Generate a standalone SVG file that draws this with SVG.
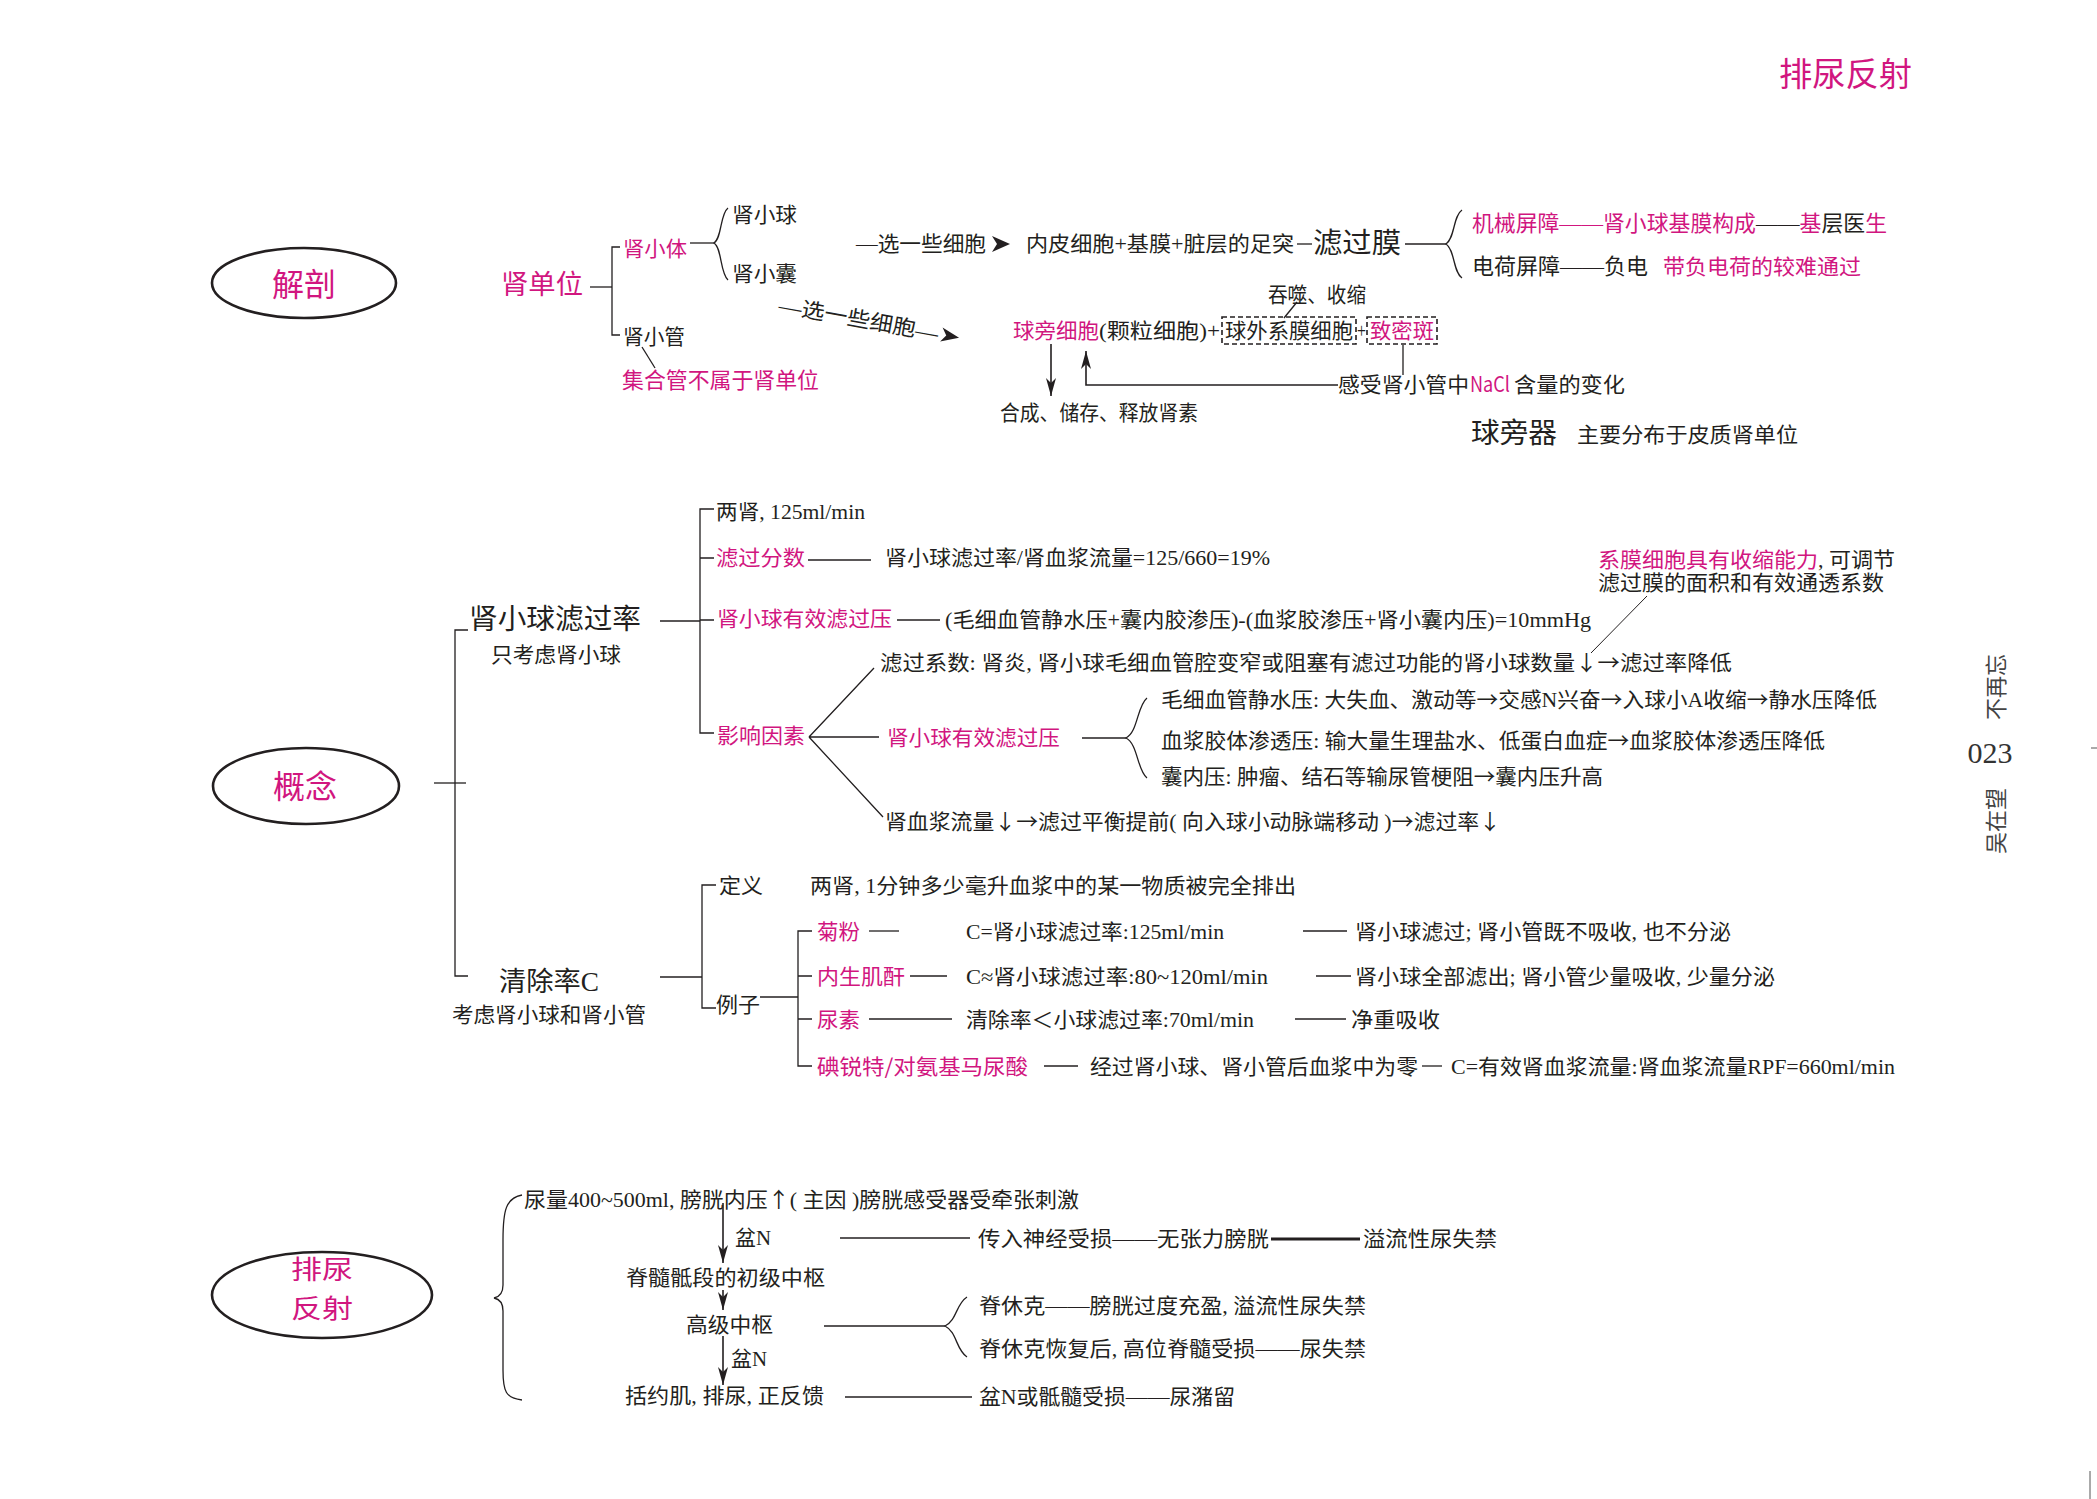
<svg xmlns="http://www.w3.org/2000/svg" width="2097" height="1499" viewBox="0 0 2097 1499">
<style>
.t{font-family:"Liberation Serif","Noto Sans CJK SC",serif;font-size:21px;fill:#231f20}
.p{font-family:"Noto Sans CJK SC",sans-serif;font-size:21px;fill:#d1167f}
.pk{fill:#d1167f}
.bk{fill:#231f20}
.ar{font-family:"Noto Sans CJK SC",sans-serif}
.l{stroke:#231f20;stroke-width:1.3;fill:none}
.e{stroke:#231f20;stroke-width:2.6;fill:none}
.d{stroke:#231f20;stroke-width:1.6;fill:none;stroke-dasharray:5 3}
.side{font-family:"Noto Sans CJK SC",sans-serif;font-size:22px;fill:#444}
</style>
<defs>
<marker id="ah" viewBox="0 0 14 10" refX="14" refY="5" markerWidth="14" markerHeight="10" markerUnits="userSpaceOnUse" orient="auto">
<path d="M0,0 L14,5 L0,10 L4,5 z" fill="#231f20"/>
</marker>
<marker id="ahl" viewBox="0 0 18 10" refX="18" refY="5" markerWidth="18" markerHeight="10" markerUnits="userSpaceOnUse" orient="auto">
<path d="M0,0 L18,5 L0,10 L5,5 z" fill="#231f20"/>
</marker>
</defs>
<rect width="2097" height="1499" fill="#ffffff"/>

<g id="title">
<text class="p" x="1779" y="86" style="font-size:33px" textLength="133" lengthAdjust="spacingAndGlyphs">排尿反射</text>
</g>

<g id="connectors">
<!-- anatomy -->
<line class="l" x1="590" y1="287" x2="612" y2="287"/>
<path class="l" d="M620,247 H612 V335 H620"/>
<line class="l" x1="690" y1="243" x2="714" y2="243"/>
<path class="l" d="M728,208 C720,214 722,238 714,243 C722,248 720,273 728,280"/>
<line class="l" x1="642" y1="347" x2="655" y2="368"/>
<line class="l" x1="1297" y1="244" x2="1312" y2="244"/>
<line class="l" x1="1405" y1="244" x2="1446" y2="244"/>
<path class="l" d="M1462,210 C1453,216 1455,238 1446,244 C1455,250 1453,272 1462,278"/>
<line class="l" x1="1297" y1="302" x2="1284" y2="318"/>
<rect class="d" x="1222" y="317" width="134" height="27"/>
<rect class="d" x="1367" y="317" width="70" height="27"/>
<line class="l" x1="1051" y1="344" x2="1051" y2="396" marker-end="url(#ahl)" style="stroke-width:1.6"/>
<polyline class="l" points="1338,385 1086,385 1086,351" marker-end="url(#ahl)" style="stroke-width:1.6"/>
<line class="l" x1="1403" y1="345" x2="1403" y2="375"/>
<!-- concept -->
<line class="l" x1="434" y1="783" x2="466" y2="783"/>
<path class="l" d="M468,630 H455 V976 H468"/>
<line class="l" x1="660" y1="621" x2="700" y2="621"/>
<path class="l" d="M714,509 H700 V733 H714 M700,558 H714 M700,620 H714"/>
<line class="l" x1="808" y1="560" x2="871" y2="560"/>
<line class="l" x1="897" y1="620" x2="940" y2="620"/>
<line class="l" x1="1647" y1="596" x2="1591" y2="653" style="stroke-width:1"/>
<path class="l" d="M809,737 L874,668 M809,737 L879,737 M809,737 L883,817"/>
<line class="l" x1="1082" y1="738" x2="1126" y2="738"/>
<path class="l" d="M1147,698 C1137,706 1138,732 1126,738 C1138,744 1137,770 1147,778"/>
<line class="l" x1="660" y1="977" x2="702" y2="977"/>
<path class="l" d="M716,885 H702 V1008 H716"/>
<line class="l" x1="760" y1="997" x2="798" y2="997"/>
<path class="l" d="M812,931 H798 V1066 H812 M798,976 H812 M798,1019 H812"/>
<line class="l" x1="869" y1="931" x2="899" y2="931"/>
<line class="l" x1="1303" y1="931" x2="1347" y2="931"/>
<line class="l" x1="910" y1="976" x2="947" y2="976"/>
<line class="l" x1="1316" y1="976" x2="1351" y2="976"/>
<line class="l" x1="869" y1="1019" x2="952" y2="1019"/>
<line class="l" x1="1295" y1="1019" x2="1346" y2="1019"/>
<line class="l" x1="1044" y1="1066" x2="1078" y2="1066"/>
<line class="l" x1="1422" y1="1066" x2="1442" y2="1066"/>
<!-- reflex -->
<path class="l" d="M522,1195 C506,1198 503,1210 503,1240 L503,1285 C503,1293 499,1297 494,1298 C499,1299 503,1303 503,1311 L503,1370 C503,1392 506,1398 522,1400"/>
<line class="l" x1="723" y1="1203" x2="723" y2="1263" marker-end="url(#ahl)" style="stroke-width:1.6"/>
<line class="l" x1="723" y1="1290" x2="723" y2="1310" marker-end="url(#ahl)" style="stroke-width:1.6"/>
<line class="l" x1="723" y1="1336" x2="723" y2="1385" marker-end="url(#ahl)" style="stroke-width:1.6"/>
<line class="l" x1="840" y1="1238" x2="970" y2="1238"/>
<line x1="1271" y1="1239" x2="1360" y2="1239" stroke="#231f20" stroke-width="3"/>
<line class="l" x1="824" y1="1326" x2="945" y2="1326"/>
<path class="l" d="M967,1297 C956,1304 957,1320 945,1326 C957,1332 956,1350 967,1357"/>
<line class="l" x1="845" y1="1397" x2="972" y2="1397"/>
</g>

<g id="n-jiepou">
<ellipse class="e" cx="304" cy="283" rx="92" ry="35"/>
<text class="p" x="304" y="296" text-anchor="middle" style="font-size:32px">解剖</text>
</g>
<g id="n-shendanwei">
<text class="p" x="501" y="294" style="font-size:27px" textLength="82" lengthAdjust="spacingAndGlyphs">肾单位</text>
</g>
<g id="n-shenxiaoti">
<text class="p" x="623" y="256" textLength="64" lengthAdjust="spacingAndGlyphs">肾小体</text>
<text class="t" x="732" y="222" textLength="65" lengthAdjust="spacingAndGlyphs">肾小球</text>
<text class="t" x="732" y="281" textLength="65" lengthAdjust="spacingAndGlyphs">肾小囊</text>
</g>
<g id="n-shenxiaoguan">
<text class="t" x="623" y="344" textLength="62" lengthAdjust="spacingAndGlyphs">肾小管</text>
<text class="p" x="622" y="388" style="font-size:22px" textLength="197" lengthAdjust="spacingAndGlyphs">集合管不属于肾单位</text>
</g>
<g id="n-lvguomo">
<text class="t" x="856" y="251" textLength="130" lengthAdjust="spacingAndGlyphs">—选一些细胞</text>
<polygon points="992,236 1010,244 992,252 997,244" fill="#231f20"/>
<text class="t" x="1026" y="251" textLength="268" lengthAdjust="spacingAndGlyphs">内皮细胞+基膜+脏层的足突</text>
<text class="t" x="1313" y="253" style="font-size:28px" textLength="88" lengthAdjust="spacingAndGlyphs">滤过膜</text>
<text class="t" x="1472" y="231" style="font-size:22px" textLength="415" lengthAdjust="spacingAndGlyphs"><tspan class="pk">机械屏障——肾小球基膜构成</tspan><tspan class="bk">——</tspan><tspan class="pk">基</tspan><tspan class="bk">层医</tspan><tspan class="pk">生</tspan></text>
<text class="t" x="1472" y="274" style="font-size:22px" textLength="176" lengthAdjust="spacingAndGlyphs">电荷屏障——负电</text>
<text class="p" x="1663" y="274" textLength="198" lengthAdjust="spacingAndGlyphs">带负电荷的较难通过</text>
</g>
<g id="n-qiupangqi">
<g transform="rotate(10.3 779 305)">
<text class="t" x="779" y="312" textLength="162" lengthAdjust="spacingAndGlyphs">—选一些细胞—</text>
<polygon points="962,305 944,298 949,305 944,312" fill="#231f20"/>
</g>
<text class="t" x="1268" y="302" textLength="98" lengthAdjust="spacingAndGlyphs">吞噬、收缩</text>
<text class="p" x="1013" y="338" textLength="86" lengthAdjust="spacingAndGlyphs">球旁细胞</text>
<text class="t" x="1099" y="338" textLength="121" lengthAdjust="spacingAndGlyphs">(颗粒细胞)+</text>
<text class="t" x="1225" y="338" textLength="128" lengthAdjust="spacingAndGlyphs">球外系膜细胞</text>
<text class="t" x="1357" y="338" textLength="9" lengthAdjust="spacingAndGlyphs">+</text>
<text class="p" x="1370" y="338" textLength="64" lengthAdjust="spacingAndGlyphs">致密斑</text>
<text class="t" x="1338" y="392" textLength="131" lengthAdjust="spacingAndGlyphs">感受肾小管中</text>
<text class="p" x="1470" y="392" textLength="40" lengthAdjust="spacingAndGlyphs">NaCl</text>
<text class="t" x="1514" y="392" textLength="111" lengthAdjust="spacingAndGlyphs">含量的变化</text>
<text class="t" x="1000" y="420" textLength="198" lengthAdjust="spacingAndGlyphs">合成、储存、释放肾素</text>
<text class="t" x="1471" y="443" style="font-size:28px" textLength="86" lengthAdjust="spacingAndGlyphs">球旁器</text>
<text class="t" x="1577" y="442" textLength="221" lengthAdjust="spacingAndGlyphs">主要分布于皮质肾单位</text>
</g>

<g id="n-gainian">
<ellipse class="e" cx="306" cy="786" rx="93" ry="38"/>
<text class="p" x="305" y="798" text-anchor="middle" style="font-size:32px">概念</text>
</g>
<g id="n-gfr">
<text class="t" x="469" y="629" style="font-size:28px" textLength="172" lengthAdjust="spacingAndGlyphs">肾小球滤过率</text>
<text class="t" x="491" y="662" textLength="130" lengthAdjust="spacingAndGlyphs">只考虑肾小球</text>
<text class="t" x="716" y="519" textLength="149" lengthAdjust="spacingAndGlyphs">两肾, 125ml/min</text>
<text class="p" x="716" y="565" textLength="89" lengthAdjust="spacingAndGlyphs">滤过分数</text>
<text class="t" x="885" y="565" textLength="385" lengthAdjust="spacingAndGlyphs">肾小球滤过率/肾血浆流量=125/660=19%</text>
<text class="p" x="717" y="626" textLength="175" lengthAdjust="spacingAndGlyphs">肾小球有效滤过压</text>
<text class="t" x="945" y="627" textLength="646" lengthAdjust="spacingAndGlyphs">(毛细血管静水压+囊内胶渗压)-(血浆胶渗压+肾小囊内压)=10mmHg</text>
<text class="t" x="1598" y="567" textLength="297" lengthAdjust="spacingAndGlyphs"><tspan class="pk">系膜细胞具有收缩能力</tspan>, 可调节</text>
<text class="t" x="1598" y="590" textLength="286" lengthAdjust="spacingAndGlyphs">滤过膜的面积和有效通透系数</text>
</g>
<g id="n-yingxiang">
<text class="p" x="717" y="743" textLength="88" lengthAdjust="spacingAndGlyphs">影响因素</text>
<text class="t" x="880" y="670" textLength="852" lengthAdjust="spacingAndGlyphs">滤过系数: 肾炎, 肾小球毛细血管腔变窄或阻塞有滤过功能的肾小球数量<tspan class="ar">↓→</tspan>滤过率降低</text>
<text class="p" x="887" y="745" textLength="173" lengthAdjust="spacingAndGlyphs">肾小球有效滤过压</text>
<text class="t" x="1161" y="707" textLength="716" lengthAdjust="spacingAndGlyphs">毛细血管静水压: 大失血、激动等<tspan class="ar">→</tspan>交感N兴奋<tspan class="ar">→</tspan>入球小A收缩<tspan class="ar">→</tspan>静水压降低</text>
<text class="t" x="1161" y="748" textLength="664" lengthAdjust="spacingAndGlyphs">血浆胶体渗透压: 输大量生理盐水、低蛋白血症<tspan class="ar">→</tspan>血浆胶体渗透压降低</text>
<text class="t" x="1161" y="784" textLength="442" lengthAdjust="spacingAndGlyphs">囊内压: 肿瘤、结石等输尿管梗阻<tspan class="ar">→</tspan>囊内压升高</text>
<text class="t" x="885" y="829" textLength="616" lengthAdjust="spacingAndGlyphs">肾血浆流量<tspan class="ar">↓→</tspan>滤过平衡提前( 向入球小动脉端移动 )<tspan class="ar">→</tspan>滤过率<tspan class="ar">↓</tspan></text>
</g>
<g id="n-clearance">
<text class="t" x="499" y="991" style="font-size:27px" textLength="100" lengthAdjust="spacingAndGlyphs">清除率C</text>
<text class="t" x="452" y="1022" textLength="194" lengthAdjust="spacingAndGlyphs">考虑肾小球和肾小管</text>
<text class="t" x="719" y="893" textLength="44" lengthAdjust="spacingAndGlyphs">定义</text>
<text class="t" x="810" y="893" textLength="486" lengthAdjust="spacingAndGlyphs">两肾, 1分钟多少毫升血浆中的某一物质被完全排出</text>
<text class="t" x="716" y="1012" textLength="44" lengthAdjust="spacingAndGlyphs">例子</text>
<text class="p" x="817" y="939" textLength="43" lengthAdjust="spacingAndGlyphs">菊粉</text>
<text class="t" x="966" y="939" textLength="258" lengthAdjust="spacingAndGlyphs">C=肾小球滤过率:125ml/min</text>
<text class="t" x="1355" y="939" textLength="376" lengthAdjust="spacingAndGlyphs">肾小球滤过; 肾小管既不吸收, 也不分泌</text>
<text class="p" x="817" y="984" textLength="88" lengthAdjust="spacingAndGlyphs">内生肌酐</text>
<text class="t" x="966" y="984" textLength="302" lengthAdjust="spacingAndGlyphs">C≈肾小球滤过率:80~120ml/min</text>
<text class="t" x="1355" y="984" textLength="420" lengthAdjust="spacingAndGlyphs">肾小球全部滤出; 肾小管少量吸收, 少量分泌</text>
<text class="p" x="817" y="1027" textLength="43" lengthAdjust="spacingAndGlyphs">尿素</text>
<text class="t" x="966" y="1027" textLength="288" lengthAdjust="spacingAndGlyphs">清除率＜小球滤过率:70ml/min</text>
<text class="t" x="1351" y="1027" textLength="89" lengthAdjust="spacingAndGlyphs">净重吸收</text>
<text class="p" x="817" y="1074" textLength="211" lengthAdjust="spacingAndGlyphs">碘锐特/对氨基马尿酸</text>
<text class="t" x="1090" y="1074" textLength="328" lengthAdjust="spacingAndGlyphs">经过肾小球、肾小管后血浆中为零</text>
<text class="t" x="1451" y="1074" textLength="444" lengthAdjust="spacingAndGlyphs">C=有效肾血浆流量:肾血浆流量RPF=660ml/min</text>
</g>

<g id="n-painiao">
<ellipse class="e" cx="322" cy="1295" rx="110" ry="43"/>
<text class="p" x="291" y="1279" style="font-size:26px" textLength="62" lengthAdjust="spacingAndGlyphs">排尿</text>
<text class="p" x="291" y="1318" style="font-size:26px" textLength="62" lengthAdjust="spacingAndGlyphs">反射</text>
</g>
<g id="n-reflex">
<text class="t" x="524" y="1207" textLength="555" lengthAdjust="spacingAndGlyphs">尿量400~500ml, 膀胱内压<tspan class="ar">↑</tspan>( 主因 )膀胱感受器受牵张刺激</text>
<text class="t" x="735" y="1245" textLength="36" lengthAdjust="spacingAndGlyphs">盆N</text>
<text class="t" x="978" y="1246" textLength="291" lengthAdjust="spacingAndGlyphs">传入神经受损——无张力膀胱</text>
<text class="t" x="1363" y="1246" textLength="134" lengthAdjust="spacingAndGlyphs">溢流性尿失禁</text>
<text class="t" x="626" y="1285" textLength="199" lengthAdjust="spacingAndGlyphs">脊髓骶段的初级中枢</text>
<text class="t" x="686" y="1332" textLength="87" lengthAdjust="spacingAndGlyphs">高级中枢</text>
<text class="t" x="979" y="1313" textLength="387" lengthAdjust="spacingAndGlyphs">脊休克——膀胱过度充盈, 溢流性尿失禁</text>
<text class="t" x="979" y="1356" textLength="387" lengthAdjust="spacingAndGlyphs">脊休克恢复后, 高位脊髓受损——尿失禁</text>
<text class="t" x="731" y="1366" textLength="36" lengthAdjust="spacingAndGlyphs">盆N</text>
<text class="t" x="625" y="1403" textLength="199" lengthAdjust="spacingAndGlyphs">括约肌, 排尿, 正反馈</text>
<text class="t" x="979" y="1404" textLength="256" lengthAdjust="spacingAndGlyphs">盆N或骶髓受损——尿潴留</text>
</g>

<g id="side">
<text class="side" transform="translate(2004,687) rotate(-90)" text-anchor="middle">不再忘</text>
<text x="1990" y="763" text-anchor="middle" style="font-family:'Liberation Serif',serif;font-size:30px;fill:#333">023</text>
<text class="side" transform="translate(2004,821) rotate(-90)" text-anchor="middle">吴在望</text>
<line x1="2091" y1="748" x2="2097" y2="748" stroke="#555" stroke-width="1"/>
<line x1="2090" y1="1471" x2="2090" y2="1499" stroke="#555" stroke-width="1"/>
</g>
</svg>
